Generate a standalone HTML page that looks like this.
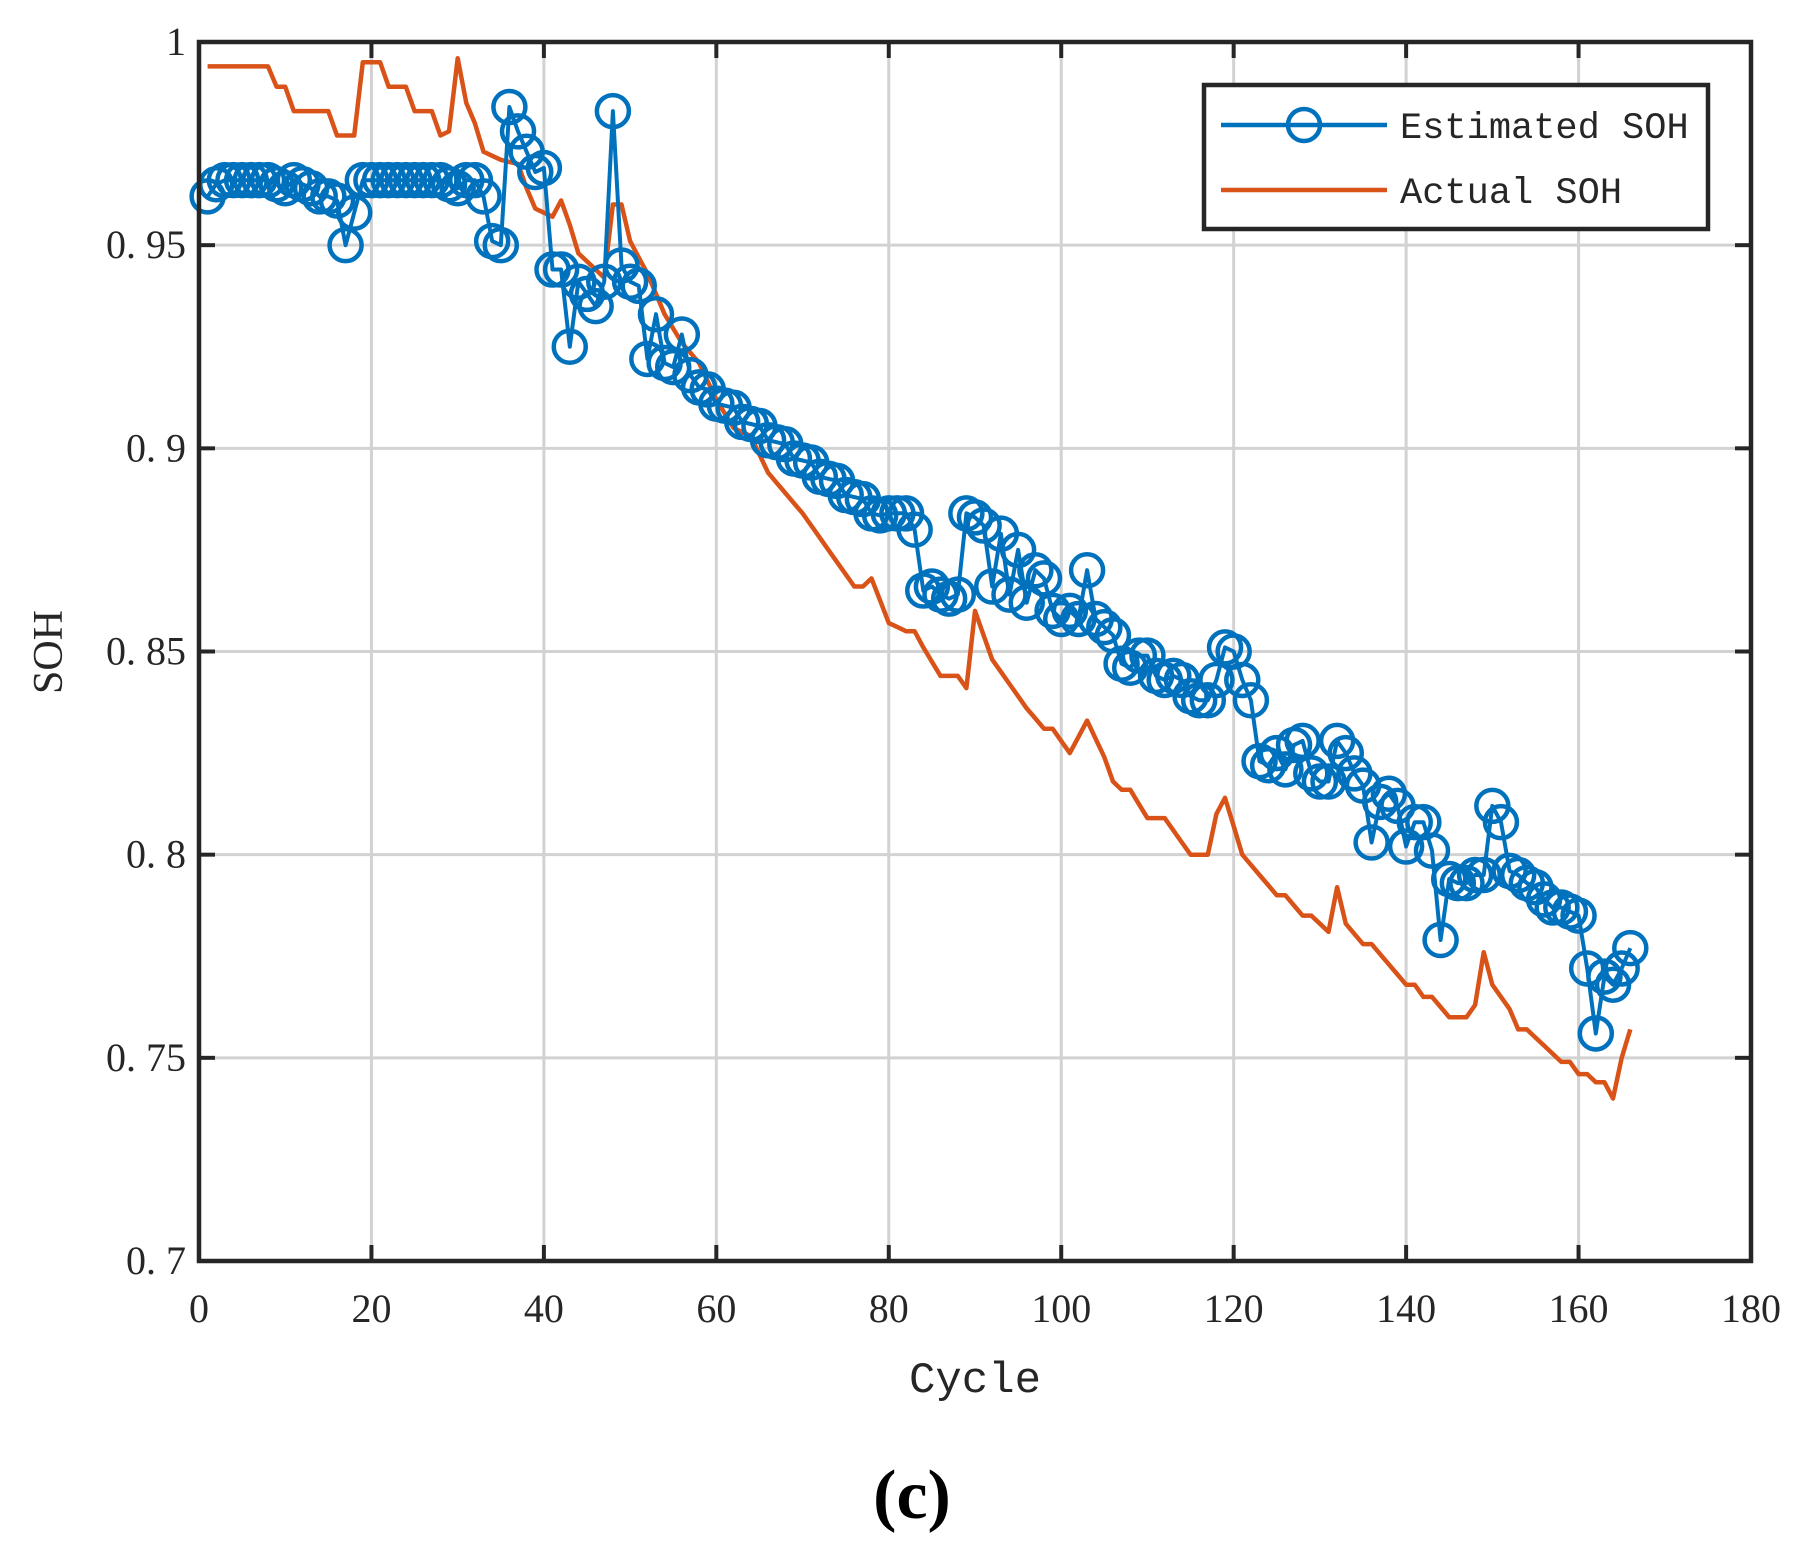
<!DOCTYPE html>
<html><head><meta charset="utf-8"><style>
html,body{margin:0;padding:0;background:#fff}
svg{display:block}
text{font-family:"Liberation Serif",serif;fill:#262626}
</style></head><body>
<svg id="s" width="1803" height="1555" viewBox="0 0 1803 1555" xmlns="http://www.w3.org/2000/svg">
<rect width="1803" height="1555" fill="#fff"/>
<g id="grid" stroke="#d2d2d2" stroke-width="3"></g>
<g id="ticks" stroke="#262626" stroke-width="4"></g>
<g id="lbl" font-size="40"></g>
<polyline id="act" fill="none" stroke="#d95319" stroke-width="4.5" stroke-linejoin="round"/>
<polyline id="est" fill="none" stroke="#0072bd" stroke-width="4" stroke-linejoin="round"/>
<g id="mk" fill="none" stroke="#0072bd" stroke-width="4.5"></g>
<rect x="199" y="42" width="1552" height="1219" fill="none" stroke="#262626" stroke-width="4.5"/>
<text x="975" y="1392" font-size="44" text-anchor="middle" style="font-family:'Liberation Mono',monospace">Cycle</text>
<text transform="translate(62,652) rotate(-90)" font-size="42" text-anchor="middle">SOH</text>
<text x="912" y="1518" font-size="70" font-weight="bold" text-anchor="middle" style="fill:#000">(c)</text>
<rect x="1204" y="85" width="504" height="144" fill="#fff" stroke="#262626" stroke-width="4.5"/>
<line x1="1221" y1="125" x2="1387" y2="125" stroke="#0072bd" stroke-width="4.5"/>
<circle cx="1304" cy="125" r="16" fill="none" stroke="#0072bd" stroke-width="4.5"/>
<line x1="1221" y1="190" x2="1387" y2="190" stroke="#d95319" stroke-width="4.5"/>
<text x="1400" y="138" font-size="37" style="font-family:'Liberation Mono',monospace">Estimated SOH</text>
<text x="1400" y="203" font-size="37" style="font-family:'Liberation Mono',monospace">Actual SOH</text>
</svg>
<script>
var X=c=>199+c*1552/180, Y=v=>42+(1-v)*1219/0.3;
var NS="http://www.w3.org/2000/svg";
function el(p,t,a,txt){var e=document.createElementNS(NS,t);for(var k in a)e.setAttribute(k,a[k]);if(txt)e.textContent=txt;document.getElementById(p).appendChild(e);}
for(var c=20;c<180;c+=20){el('grid','line',{x1:X(c),y1:42,x2:X(c),y2:1261});}
for(var v=0.75;v<0.999;v+=0.05){el('grid','line',{x1:199,y1:Y(v),x2:1751,y2:Y(v)});}
for(var c=20;c<180;c+=20){el('ticks','line',{x1:X(c),y1:1261,x2:X(c),y2:1245});el('ticks','line',{x1:X(c),y1:42,x2:X(c),y2:58});}
for(var v=0.75;v<0.999;v+=0.05){el('ticks','line',{x1:199,y1:Y(v),x2:215,y2:Y(v)});el('ticks','line',{x1:1751,y1:Y(v),x2:1735,y2:Y(v)});}
for(var c=0;c<=180;c+=20){el('lbl','text',{x:X(c),y:1322,'text-anchor':'middle'},String(c));}
var yl=[[1,'1'],[0.95,'0. 95'],[0.9,'0. 9'],[0.85,'0. 85'],[0.8,'0. 8'],[0.75,'0. 75'],[0.7,'0. 7']];
yl.forEach(function(a){el('lbl','text',{x:186,y:Y(a[0])+13,'text-anchor':'end'},a[1]);});
function interp(k){var o=[];for(var i=0;i<k.length-1;i++){var a=k[i],b=k[i+1];for(var c=a[0];c<b[0];c++)o.push([c,a[1]+(b[1]-a[1])*(c-a[0])/(b[0]-a[0])]);}o.push(k[k.length-1]);return o;}
var act=interp([[1,.994],[8,.994],[9,.989],[10,.989],[11,.983],[15,.983],[16,.977],[18,.977],[19,.995],[21,.995],[22,.989],[24,.989],[25,.983],[27,.983],[28,.977],[29,.978],[30,.996],[31,.985],[32,.980],[33,.973],[35,.971],[37,.970],[38,.964],[39,.959],[40,.958],[41,.957],[42,.961],[43,.955],[44,.948],[46,.944],[47,.942],[48,.960],[49,.960],[50,.951],[52,.943],[54,.933],[56,.926],[58,.921],[60,.912],[62,.905],[64,.903],[66,.894],[70,.884],[74,.872],[76,.866],[77,.866],[78,.868],[80,.857],[82,.855],[83,.855],[84,.851],[86,.844],[88,.844],[89,.841],[90,.860],[92,.848],[96,.836],[98,.831],[99,.831],[101,.825],[103,.833],[105,.824],[106,.818],[107,.816],[108,.816],[110,.809],[112,.809],[115,.800],[117,.800],[118,.810],[119,.814],[121,.800],[125,.790],[126,.790],[128,.785],[129,.785],[131,.781],[132,.792],[133,.783],[135,.778],[136,.778],[140,.768],[141,.768],[142,.765],[143,.765],[145,.760],[147,.760],[148,.763],[149,.776],[150,.768],[152,.762],[153,.757],[154,.757],[156,.753],[158,.749],[159,.749],[160,.746],[161,.746],[162,.744],[163,.744],[164,.740],[165,.750],[166,.757]]);
var est=[[1,.962],[2,.965],[3,.966],[4,.966],[5,.966],[6,.966],[7,.966],[8,.966],[9,.965],[10,.964],[11,.966],[12,.965],[13,.964],[14,.962],[15,.962],[16,.961],[17,.950],[18,.958],[19,.966],[20,.966],[21,.966],[22,.966],[23,.966],[24,.966],[25,.966],[26,.966],[27,.966],[28,.966],[29,.965],[30,.964],[31,.966],[32,.966],[33,.962],[34,.951],[35,.950],[36,.984],[37,.978],[38,.973],[39,.968],[40,.969],[41,.944],[42,.944],[43,.925],[44,.941],[45,.938],[46,.935],[47,.941],[48,.983],[49,.945],[50,.941],[51,.940],[52,.922],[53,.933],[54,.921],[55,.920],[56,.928],[57,.918]];
for(var c=58;c<=79;c++)est.push([c,.915-(c-58)*0.0015+(c%3-1)*0.001]);
est=est.concat([[80,.884],[81,.884],[82,.884],[83,.880],[84,.865],[85,.866],[86,.864],[87,.863],[88,.864],[89,.884],[90,.883],[91,.881],[92,.866],[93,.879],[94,.864],[95,.875],[96,.862],[97,.870],[98,.868],[99,.860],[100,.858],[101,.860],[102,.858],[103,.870],[104,.858],[105,.856],[106,.854],[107,.847],[108,.846],[109,.849],[110,.849],[111,.844],[112,.843],[113,.844],[114,.843],[115,.839],[116,.838],[117,.838],[118,.843],[119,.851],[120,.850],[121,.843],[122,.838],[123,.823],[124,.822],[125,.825],[126,.821],[127,.827],[128,.828],[129,.820],[130,.818],[131,.818],[132,.828],[133,.825],[134,.820],[135,.817],[136,.803],[137,.813],[138,.815],[139,.812],[140,.802],[141,.808],[142,.808],[143,.801],[144,.779],[145,.794],[146,.793],[147,.793],[148,.795],[149,.795],[150,.812],[151,.808],[152,.796],[153,.795],[154,.793],[155,.792],[156,.789],[157,.787],[158,.787],[159,.786],[160,.785],[161,.772],[162,.756],[163,.770],[164,.768],[165,.772],[166,.777]]);
function pts(d){return d.map(p=>X(p[0]).toFixed(1)+','+Y(p[1]).toFixed(1)).join(' ');}
document.getElementById('act').setAttribute('points',pts(act));
document.getElementById('est').setAttribute('points',pts(est));
est.forEach(p=>el('mk','circle',{cx:X(p[0]),cy:Y(p[1]),r:16}));
</script>
</body></html>
